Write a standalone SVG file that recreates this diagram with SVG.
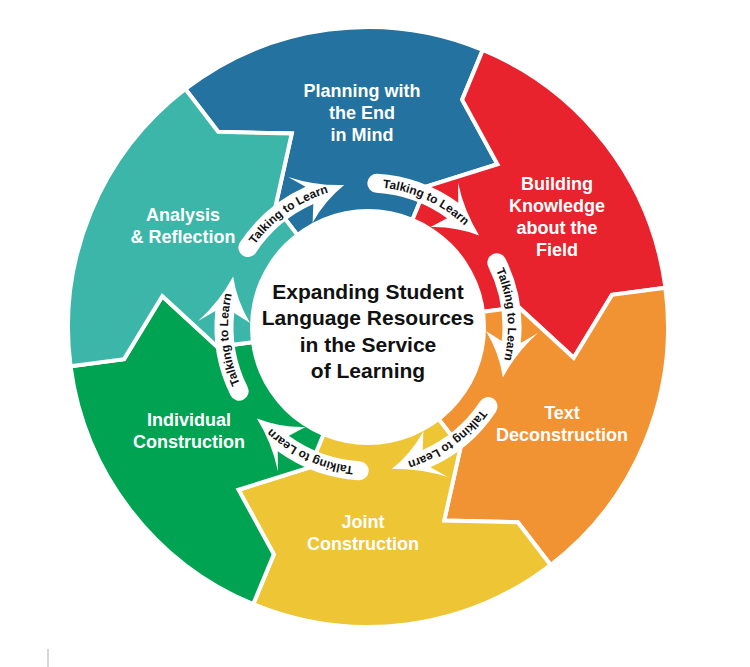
<svg xmlns="http://www.w3.org/2000/svg" width="750" height="667" viewBox="0 0 750 667">
<style>
.seg{stroke:#fff;stroke-width:4;stroke-linejoin:miter;stroke-miterlimit:10}
.lbl{font-family:"Liberation Sans",Arial,sans-serif;font-weight:bold;font-size:18px;fill:#fff;text-anchor:middle}
.ctr{font-family:"Liberation Sans",Arial,sans-serif;font-weight:bold;font-size:21px;fill:#111;text-anchor:middle}
.arw{fill:#fff}
.ttl{font-family:"Liberation Sans",Arial,sans-serif;font-weight:bold;font-size:12px;fill:#111}
</style>
<defs>
<path id="seg" d="M368,327 L275.5,206.4 L291.8,133.5 L218.2,131.8 L185.4,89 A300,300 0 0 1 482.8,49.8 L462.1,99.7 L497.5,164.2 L426.2,186.6 Z"/>
<path id="arrow" d="M368,173.5 A153.5,153.5 0 0 1 450.5,197.5 L449.1,177.6 Q456.7,205.3 473.3,228.8 Q449.4,221.1 424.3,223.3 L440.3,213.6 A134.5,134.5 0 0 0 368,192.5 A9.5,9.5 0 0 1 368,173.5 Z"/>
<path id="tp" d="M374.1,187.1 A140,140 0 0 1 470.4,231.5"/>
</defs>
<g id="planning">
<use href="#seg" class="seg" fill="#23729f"/>
<text class="lbl" x="362" y="96.5">Planning with</text>
<text class="lbl" x="362" y="118.5">the End</text>
<text class="lbl" x="362" y="140.5">in Mind</text>
</g>
<g id="building">
<use href="#seg" class="seg" fill="#e8232e" transform="rotate(60 368 327)"/>
<text class="lbl" x="557" y="189.5">Building</text>
<text class="lbl" x="557" y="211.5">Knowledge</text>
<text class="lbl" x="557" y="233.5">about the</text>
<text class="lbl" x="557" y="255.5">Field</text>
</g>
<g id="text-deconstruction">
<use href="#seg" class="seg" fill="#f29333" transform="rotate(120 368 327)"/>
<text class="lbl" x="562" y="418.5">Text</text>
<text class="lbl" x="562" y="441">Deconstruction</text>
</g>
<g id="joint-construction">
<use href="#seg" class="seg" fill="#edc535" transform="rotate(180 368 327)"/>
<text class="lbl" x="363" y="528">Joint</text>
<text class="lbl" x="363" y="550">Construction</text>
</g>
<g id="individual-construction">
<use href="#seg" class="seg" fill="#00a352" transform="rotate(240 368 327)"/>
<text class="lbl" x="189" y="425.5">Individual</text>
<text class="lbl" x="189" y="447.5">Construction</text>
</g>
<g id="analysis-reflection">
<use href="#seg" class="seg" fill="#3cb6a9" transform="rotate(300 368 327)"/>
<text class="lbl" x="183" y="220.5">Analysis</text>
<text class="lbl" x="183" y="242.5">&amp; Reflection</text>
</g>
<g id="center">
<circle cx="368" cy="327" r="118" fill="#fff"/>
</g>
<g id="connectors">
<g transform="rotate(303.5 368 327)"><use href="#arrow" class="arw"/><text class="ttl"><textPath href="#tp">Talking to Learn</textPath></text></g>
<g transform="rotate(3.5 368 327)"><use href="#arrow" class="arw"/><text class="ttl"><textPath href="#tp">Talking to Learn</textPath></text></g>
<g transform="rotate(63.5 368 327)"><use href="#arrow" class="arw"/><text class="ttl"><textPath href="#tp">Talking to Learn</textPath></text></g>
<g transform="rotate(123.5 368 327)"><use href="#arrow" class="arw"/><text class="ttl"><textPath href="#tp">Talking to Learn</textPath></text></g>
<g transform="rotate(183.5 368 327)"><use href="#arrow" class="arw"/><text class="ttl"><textPath href="#tp">Talking to Learn</textPath></text></g>
<g transform="rotate(243.5 368 327)"><use href="#arrow" class="arw"/><text class="ttl"><textPath href="#tp">Talking to Learn</textPath></text></g>
</g>
<g id="center-text">
<text class="ctr" x="368" y="298.5">Expanding Student</text>
<text class="ctr" x="368" y="325">Language Resources</text>
<text class="ctr" x="368" y="351.5">in the Service</text>
<text class="ctr" x="368" y="378">of Learning</text>
</g>
<rect x="47" y="649" width="2" height="18" fill="#d6d6d6"/>
</svg>
